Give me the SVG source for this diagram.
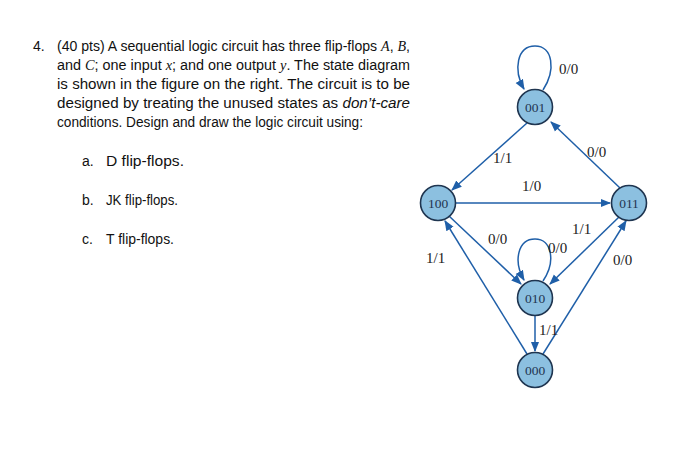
<svg xmlns="http://www.w3.org/2000/svg" width="685" height="458" viewBox="0 0 685 458">
<style>
.t{font-family:"Liberation Sans",Arial,sans-serif;font-size:14px;fill:#111}
.m{font-family:"Liberation Serif",serif;font-style:italic}
.n circle{fill:#8cc0e0;stroke:#1f3550;stroke-width:1.6}
.n text{font-family:"Liberation Serif",serif;font-size:13.5px;fill:#1f3550;text-anchor:middle}
.e{fill:none;stroke:#1f5fa8;stroke-width:1.5;marker-end:url(#a)}
.l{font-family:"Liberation Serif",serif;font-size:15px;fill:#222}
</style>
<defs><marker id="a" viewBox="0 0 10 10" refX="9" refY="5" markerWidth="7" markerHeight="7" orient="auto"><path d="M0,1 L10,5 L0,9 z" fill="#1f5fa8"/></marker></defs>
<rect width="685" height="458" fill="#fff"/>
<g id="text">
<text class="t" x="33" y="51">4.</text>
<text class="t" x="57" y="51" textLength="353" lengthAdjust="spacingAndGlyphs">(40 pts) A sequential logic circuit has three flip-flops <tspan class="m">A</tspan>, <tspan class="m">B</tspan>,</text>
<text class="t" x="57" y="70" textLength="353" lengthAdjust="spacingAndGlyphs">and <tspan class="m">C</tspan>; one input <tspan class="m">x</tspan>; and one output <tspan class="m">y</tspan>. The state diagram</text>
<text class="t" x="57" y="89" textLength="353" lengthAdjust="spacingAndGlyphs">is shown in the figure on the right. The circuit is to be</text>
<text class="t" x="57" y="108" textLength="353" lengthAdjust="spacingAndGlyphs">designed by treating the unused states as <tspan font-style="italic">don’t-care</tspan></text>
<text class="t" x="57" y="127" textLength="306" lengthAdjust="spacingAndGlyphs">conditions. Design and draw the logic circuit using:</text>
<text class="t" x="82" y="166">a.</text><text class="t" x="106" y="166" textLength="78" lengthAdjust="spacingAndGlyphs">D flip-flops.</text>
<text class="t" x="82" y="205">b.</text><text class="t" x="106" y="205" textLength="72" lengthAdjust="spacingAndGlyphs">JK flip-flops.</text>
<text class="t" x="82" y="244">c.</text><text class="t" x="106" y="244" textLength="68" lengthAdjust="spacingAndGlyphs">T flip-flops.</text>
</g>
<g id="connectors">
<path class="e" d="M543,90 C556,70 553,46 535,46 C517,46 513,70 524,89"/>
<path class="e" d="M527,123 L452,190"/>
<path class="e" d="M620,188 L551,122"/>
<path class="e" d="M456,203 L610,203"/>
<path class="e" d="M449,216 L521,284"/>
<path class="e" d="M619,217 L550,284"/>
<path class="e" d="M543,281 C556,262 552,239 535,239 C518,239 513,261 524,280"/>
<path class="e" d="M535,316 L535,351"/>
<path class="e" d="M527,354 L445,221"/>
<path class="e" d="M543,354 L626,221"/>
<text class="l" x="559" y="74">0/0</text>
<text class="l" x="493" y="163">1/1</text>
<text class="l" x="522" y="191">1/0</text>
<text class="l" x="587" y="157">0/0</text>
<text class="l" x="572" y="234">1/1</text>
<text class="l" x="488" y="244">0/0</text>
<text class="l" x="548" y="253">0/0</text>
<text class="l" x="426" y="263">1/1</text>
<text class="l" x="613" y="265">0/0</text>
<text class="l" x="539" y="335">1/1</text>
</g>
<g id="n001" class="n"><circle cx="535" cy="107" r="17.5"/><text x="535" y="112">001</text></g>
<g id="n100" class="n"><circle cx="438" cy="203" r="17.5"/><text x="438" y="208">100</text></g>
<g id="n011" class="n"><circle cx="629" cy="203" r="17.5"/><text x="629" y="208">011</text></g>
<g id="n010" class="n"><circle cx="535" cy="298" r="17.5"/><text x="535" y="303">010</text></g>
<g id="n000" class="n"><circle cx="535" cy="370" r="17.5"/><text x="535" y="375">000</text></g>
</svg>
